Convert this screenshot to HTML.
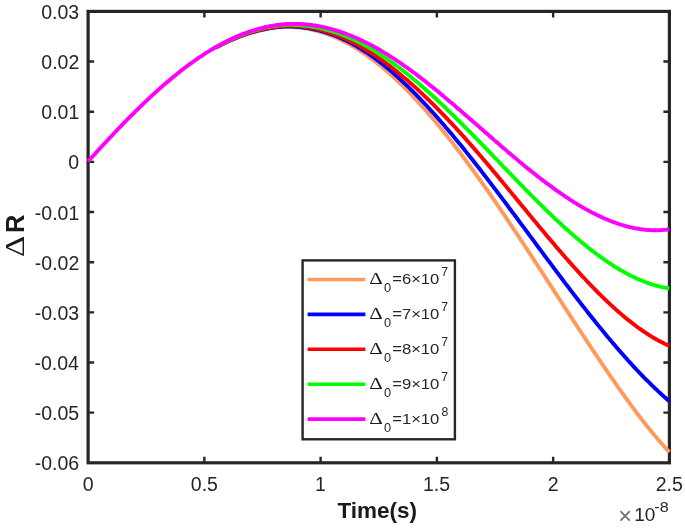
<!DOCTYPE html>
<html><head><meta charset="utf-8"><style>html,body{margin:0;padding:0;background:#fff;width:685px;height:528px;overflow:hidden}svg{display:block;filter:blur(0.45px)}</style></head>
<body><svg width="685" height="528" viewBox="0 0 685 528">
<rect x="0" y="0" width="685" height="528" fill="#fff"/>
<g stroke="#262626" stroke-width="3.2" fill="none">
<rect x="88.1" y="11.4" width="581.30" height="451.40"/>
<path d="M88.1,61.56h6.0M669.4,61.56h-6.0" stroke-width="2.4"/>
<path d="M88.1,111.71h6.0M669.4,111.71h-6.0" stroke-width="2.4"/>
<path d="M88.1,161.87h6.0M669.4,161.87h-6.0" stroke-width="2.4"/>
<path d="M88.1,212.02h6.0M669.4,212.02h-6.0" stroke-width="2.4"/>
<path d="M88.1,262.18h6.0M669.4,262.18h-6.0" stroke-width="2.4"/>
<path d="M88.1,312.33h6.0M669.4,312.33h-6.0" stroke-width="2.4"/>
<path d="M88.1,362.49h6.0M669.4,362.49h-6.0" stroke-width="2.4"/>
<path d="M88.1,412.64h6.0M669.4,412.64h-6.0" stroke-width="2.4"/>
<path d="M204.36,462.8v-6.0M204.36,11.4v6.0" stroke-width="2.4"/>
<path d="M320.62,462.8v-6.0M320.62,11.4v6.0" stroke-width="2.4"/>
<path d="M436.88,462.8v-6.0M436.88,11.4v6.0" stroke-width="2.4"/>
<path d="M553.14,462.8v-6.0M553.14,11.4v6.0" stroke-width="2.4"/>
</g>
<g fill="none" stroke-linejoin="round" stroke-linecap="butt">
<path d="M215.5,47.79 L216.7,47.14 L218.0,46.49 L219.2,45.86 L220.4,45.23 L221.6,44.62 L222.8,44.01 L224.0,43.42 L225.2,42.83 L226.4,42.25 L227.7,41.69 L228.9,41.13 L230.1,40.59 L231.3,40.05 L232.5,39.52 L233.7,39.01 L234.9,38.50 L236.2,38.01 L237.4,37.52 L238.6,37.05 L239.8,36.58 L241.0,36.13 L242.2,35.69 L243.4,35.25 L244.7,34.83 L245.9,34.42 L247.1,34.02 L248.3,33.63 L249.5,33.25 L250.7,32.88 L251.9,32.52 L253.1,32.17 L254.4,31.83 L255.6,31.50 L256.8,31.18 L258.0,30.88 L259.2,30.58 L260.4,30.30 L261.6,30.03 L262.9,29.76 L264.1,29.51 L265.3,29.27 L266.5,29.04 L267.7,28.81 L268.9,28.60 L270.1,28.39 L271.3,28.20 L272.6,28.02 L273.8,27.84 L275.0,27.68 L276.2,27.54 L277.4,27.40 L278.6,27.28 L279.8,27.18 L281.1,27.07 L282.3,26.97 L283.5,26.90 L284.7,26.85 L285.9,26.81 L287.1,26.80 L288.3,26.80 L289.6,26.83 L290.8,26.87 L292.0,26.94 L293.2,27.02 L294.4,27.11 L295.6,27.22 L296.8,27.34 L298.0,27.47 L299.3,27.61 L300.5,27.75 L301.7,27.91 L302.9,28.08 L304.1,28.26 L305.3,28.45 L306.5,28.66 L307.8,28.88 L309.0,29.12 L310.2,29.36 L311.4,29.62 L312.6,29.89 L313.8,30.18 L315.0,30.48 L316.3,30.79 L317.5,31.12 L318.7,31.45 L319.9,31.80 L321.1,32.17 L322.3,32.55 L323.5,32.94 L324.7,33.34 L326.0,33.75 L327.2,34.18 L328.4,34.63 L329.6,35.08 L330.8,35.55 L332.0,36.03 L333.2,36.52 L334.5,37.03 L335.7,37.55 L336.9,38.08 L338.1,38.63 L339.3,39.19 L340.5,39.76 L341.7,40.34 L342.9,40.94 L344.2,41.55 L345.4,42.18 L346.6,42.81 L347.8,43.46 L349.0,44.13 L350.2,44.80 L351.4,45.49 L352.7,46.19 L353.9,46.91 L355.1,47.64 L356.3,48.38 L357.5,49.13 L358.7,49.90 L359.9,50.68 L361.2,51.47 L362.4,52.28 L363.6,53.10 L364.8,53.93 L366.0,54.77 L367.2,55.63 L368.4,56.50 L369.6,57.38 L370.9,58.27 L372.1,59.18 L373.3,60.10 L374.5,61.03 L375.7,61.97 L376.9,62.93 L378.1,63.90 L379.4,64.88 L380.6,65.87 L381.8,66.87 L383.0,67.88 L384.2,68.91 L385.4,69.95 L386.6,71.00 L387.9,72.06 L389.1,73.13 L390.3,74.21 L391.5,75.30 L392.7,76.41 L393.9,77.52 L395.1,78.65 L396.3,79.79 L397.6,80.94 L398.8,82.10 L400.0,83.27 L401.2,84.45 L402.4,85.64 L403.6,86.84 L404.8,88.05 L406.1,89.27 L407.3,90.50 L408.5,91.74 L409.7,92.99 L410.9,94.26 L412.1,95.53 L413.3,96.81 L414.6,98.10 L415.8,99.40 L417.0,100.71 L418.2,102.03 L419.4,103.36 L420.6,104.70 L421.8,106.04 L423.0,107.40 L424.3,108.77 L425.5,110.14 L426.7,111.52 L427.9,112.92 L429.1,114.32 L430.3,115.73 L431.5,117.15 L432.8,118.57 L434.0,120.01 L435.2,121.45 L436.4,122.91 L437.6,124.37 L438.8,125.84 L440.0,127.31 L441.2,128.80 L442.5,130.29 L443.7,131.79 L444.9,133.30 L446.1,134.82 L447.3,136.34 L448.5,137.87 L449.7,139.41 L451.0,140.96 L452.2,142.51 L453.4,144.08 L454.6,145.64 L455.8,147.22 L457.0,148.80 L458.2,150.39 L459.5,151.99 L460.7,153.59 L461.9,155.20 L463.1,156.82 L464.3,158.44 L465.5,160.07 L466.7,161.71 L467.9,163.35 L469.2,165.00 L470.4,166.66 L471.6,168.32 L472.8,169.99 L474.0,171.66 L475.2,173.34 L476.4,175.03 L477.7,176.72 L478.9,178.42 L480.1,180.12 L481.3,181.83 L482.5,183.54 L483.7,185.26 L484.9,186.98 L486.2,188.71 L487.4,190.45 L488.6,192.19 L489.8,193.93 L491.0,195.68 L492.2,197.43 L493.4,199.19 L494.6,200.96 L495.9,202.72 L497.1,204.50 L498.3,206.27 L499.5,208.05 L500.7,209.84 L501.9,211.62 L503.1,213.42 L504.4,215.21 L505.6,217.01 L506.8,218.82 L508.0,220.62 L509.2,222.43 L510.4,224.25 L511.6,226.06 L512.8,227.88 L514.1,229.71 L515.3,231.53 L516.5,233.36 L517.7,235.19 L518.9,237.03 L520.1,238.86 L521.3,240.70 L522.6,242.54 L523.8,244.39 L525.0,246.24 L526.2,248.08 L527.4,249.93 L528.6,251.79 L529.8,253.64 L531.1,255.50 L532.3,257.35 L533.5,259.21 L534.7,261.07 L535.9,262.94 L537.1,264.80 L538.3,266.66 L539.5,268.53 L540.8,270.40 L542.0,272.26 L543.2,274.13 L544.4,276.00 L545.6,277.87 L546.8,279.74 L548.0,281.61 L549.3,283.48 L550.5,285.35 L551.7,287.22 L552.9,289.10 L554.1,290.97 L555.3,292.84 L556.5,294.71 L557.8,296.58 L559.0,298.45 L560.2,300.32 L561.4,302.19 L562.6,304.06 L563.8,305.93 L565.0,307.79 L566.2,309.66 L567.5,311.52 L568.7,313.39 L569.9,315.25 L571.1,317.11 L572.3,318.97 L573.5,320.83 L574.7,322.69 L576.0,324.54 L577.2,326.40 L578.4,328.25 L579.6,330.10 L580.8,331.95 L582.0,333.79 L583.2,335.63 L584.5,337.48 L585.7,339.31 L586.9,341.15 L588.1,342.98 L589.3,344.81 L590.5,346.64 L591.7,348.47 L592.9,350.29 L594.2,352.11 L595.4,353.92 L596.6,355.74 L597.8,357.54 L599.0,359.35 L600.2,361.15 L601.4,362.95 L602.7,364.74 L603.9,366.53 L605.1,368.32 L606.3,370.10 L607.5,371.88 L608.7,373.65 L609.9,375.42 L611.1,377.18 L612.4,378.94 L613.6,380.69 L614.8,382.44 L616.0,384.18 L617.2,385.91 L618.4,387.64 L619.6,389.36 L620.9,391.07 L622.1,392.78 L623.3,394.48 L624.5,396.18 L625.7,397.86 L626.9,399.54 L628.1,401.21 L629.4,402.87 L630.6,404.53 L631.8,406.17 L633.0,407.81 L634.2,409.44 L635.4,411.06 L636.6,412.67 L637.8,414.27 L639.1,415.87 L640.3,417.45 L641.5,419.02 L642.7,420.58 L643.9,422.14 L645.1,423.68 L646.3,425.21 L647.6,426.73 L648.8,428.24 L650.0,429.74 L651.2,431.23 L652.4,432.70 L653.6,434.17 L654.8,435.62 L656.1,437.06 L657.3,438.49 L658.5,439.91 L659.7,441.31 L660.9,442.70 L662.1,444.08 L663.3,445.44 L664.5,446.79 L665.8,448.13 L667.0,449.45 L668.2,450.76 L669.4,452.06" stroke="#FF9A5C" stroke-width="3.9"/>
<path d="M215.5,47.73 L216.7,47.07 L218.0,46.42 L219.2,45.78 L220.4,45.16 L221.6,44.54 L222.8,43.93 L224.0,43.33 L225.2,42.74 L226.4,42.15 L227.7,41.58 L228.9,41.02 L230.1,40.47 L231.3,39.93 L232.5,39.40 L233.7,38.88 L234.9,38.37 L236.2,37.87 L237.4,37.38 L238.6,36.90 L239.8,36.44 L241.0,35.98 L242.2,35.53 L243.4,35.09 L244.7,34.66 L245.9,34.25 L247.1,33.84 L248.3,33.44 L249.5,33.06 L250.7,32.69 L251.9,32.32 L253.1,31.97 L254.4,31.62 L255.6,31.29 L256.8,30.97 L258.0,30.66 L259.2,30.36 L260.4,30.07 L261.6,29.79 L262.9,29.53 L264.1,29.27 L265.3,29.02 L266.5,28.79 L267.7,28.56 L268.9,28.35 L270.1,28.14 L271.3,27.95 L272.6,27.76 L273.8,27.59 L275.0,27.43 L276.2,27.28 L277.4,27.14 L278.6,27.02 L279.8,26.91 L281.1,26.80 L282.3,26.70 L283.5,26.62 L284.7,26.56 L285.9,26.52 L287.1,26.49 L288.3,26.48 L289.6,26.49 L290.8,26.51 L292.0,26.55 L293.2,26.61 L294.4,26.68 L295.6,26.76 L296.8,26.85 L298.0,26.95 L299.3,27.06 L300.5,27.18 L301.7,27.31 L302.9,27.45 L304.1,27.60 L305.3,27.77 L306.5,27.95 L307.8,28.14 L309.0,28.34 L310.2,28.56 L311.4,28.79 L312.6,29.03 L313.8,29.28 L315.0,29.55 L316.3,29.83 L317.5,30.12 L318.7,30.42 L319.9,30.74 L321.1,31.07 L322.3,31.41 L323.5,31.76 L324.7,32.13 L326.0,32.51 L327.2,32.90 L328.4,33.30 L329.6,33.72 L330.8,34.15 L332.0,34.59 L333.2,35.04 L334.5,35.51 L335.7,35.99 L336.9,36.48 L338.1,36.99 L339.3,37.50 L340.5,38.03 L341.7,38.58 L342.9,39.13 L344.2,39.70 L345.4,40.28 L346.6,40.88 L347.8,41.48 L349.0,42.10 L350.2,42.73 L351.4,43.38 L352.7,44.04 L353.9,44.71 L355.1,45.39 L356.3,46.08 L357.5,46.79 L358.7,47.51 L359.9,48.25 L361.2,48.99 L362.4,49.75 L363.6,50.53 L364.8,51.31 L366.0,52.11 L367.2,52.92 L368.4,53.74 L369.6,54.57 L370.9,55.42 L372.1,56.28 L373.3,57.15 L374.5,58.03 L375.7,58.92 L376.9,59.82 L378.1,60.74 L379.4,61.67 L380.6,62.61 L381.8,63.56 L383.0,64.52 L384.2,65.49 L385.4,66.48 L386.6,67.47 L387.9,68.48 L389.1,69.49 L390.3,70.52 L391.5,71.56 L392.7,72.60 L393.9,73.66 L395.1,74.73 L396.3,75.81 L397.6,76.90 L398.8,77.99 L400.0,79.10 L401.2,80.22 L402.4,81.35 L403.6,82.49 L404.8,83.63 L406.1,84.79 L407.3,85.95 L408.5,87.13 L409.7,88.31 L410.9,89.51 L412.1,90.71 L413.3,91.92 L414.6,93.14 L415.8,94.37 L417.0,95.60 L418.2,96.85 L419.4,98.10 L420.6,99.37 L421.8,100.64 L423.0,101.92 L424.3,103.20 L425.5,104.50 L426.7,105.80 L427.9,107.11 L429.1,108.43 L430.3,109.75 L431.5,111.09 L432.8,112.43 L434.0,113.78 L435.2,115.13 L436.4,116.49 L437.6,117.86 L438.8,119.24 L440.0,120.62 L441.2,122.01 L442.5,123.41 L443.7,124.81 L444.9,126.22 L446.1,127.64 L447.3,129.06 L448.5,130.49 L449.7,131.93 L451.0,133.37 L452.2,134.81 L453.4,136.27 L454.6,137.73 L455.8,139.19 L457.0,140.66 L458.2,142.13 L459.5,143.62 L460.7,145.10 L461.9,146.59 L463.1,148.09 L464.3,149.59 L465.5,151.10 L466.7,152.61 L467.9,154.13 L469.2,155.65 L470.4,157.17 L471.6,158.70 L472.8,160.24 L474.0,161.78 L475.2,163.32 L476.4,164.87 L477.7,166.42 L478.9,167.97 L480.1,169.53 L481.3,171.09 L482.5,172.66 L483.7,174.23 L484.9,175.80 L486.2,177.38 L487.4,178.96 L488.6,180.55 L489.8,182.13 L491.0,183.72 L492.2,185.31 L493.4,186.91 L494.6,188.51 L495.9,190.11 L497.1,191.71 L498.3,193.32 L499.5,194.93 L500.7,196.54 L501.9,198.15 L503.1,199.77 L504.4,201.38 L505.6,203.00 L506.8,204.63 L508.0,206.25 L509.2,207.87 L510.4,209.50 L511.6,211.13 L512.8,212.76 L514.1,214.39 L515.3,216.02 L516.5,217.65 L517.7,219.28 L518.9,220.92 L520.1,222.55 L521.3,224.19 L522.6,225.83 L523.8,227.47 L525.0,229.10 L526.2,230.74 L527.4,232.38 L528.6,234.02 L529.8,235.66 L531.1,237.30 L532.3,238.94 L533.5,240.58 L534.7,242.22 L535.9,243.85 L537.1,245.49 L538.3,247.13 L539.5,248.77 L540.8,250.40 L542.0,252.04 L543.2,253.67 L544.4,255.31 L545.6,256.94 L546.8,258.57 L548.0,260.20 L549.3,261.83 L550.5,263.46 L551.7,265.08 L552.9,266.71 L554.1,268.33 L555.3,269.95 L556.5,271.57 L557.8,273.19 L559.0,274.80 L560.2,276.42 L561.4,278.03 L562.6,279.63 L563.8,281.24 L565.0,282.84 L566.2,284.44 L567.5,286.04 L568.7,287.64 L569.9,289.23 L571.1,290.82 L572.3,292.41 L573.5,293.99 L574.7,295.57 L576.0,297.15 L577.2,298.72 L578.4,300.29 L579.6,301.86 L580.8,303.42 L582.0,304.98 L583.2,306.53 L584.5,308.08 L585.7,309.63 L586.9,311.17 L588.1,312.71 L589.3,314.24 L590.5,315.77 L591.7,317.30 L592.9,318.82 L594.2,320.33 L595.4,321.85 L596.6,323.35 L597.8,324.85 L599.0,326.35 L600.2,327.84 L601.4,329.33 L602.7,330.81 L603.9,332.28 L605.1,333.75 L606.3,335.21 L607.5,336.67 L608.7,338.12 L609.9,339.57 L611.1,341.01 L612.4,342.45 L613.6,343.87 L614.8,345.30 L616.0,346.71 L617.2,348.12 L618.4,349.52 L619.6,350.92 L620.9,352.31 L622.1,353.69 L623.3,355.07 L624.5,356.44 L625.7,357.80 L626.9,359.15 L628.1,360.50 L629.4,361.84 L630.6,363.17 L631.8,364.50 L633.0,365.81 L634.2,367.12 L635.4,368.43 L636.6,369.72 L637.8,371.01 L639.1,372.28 L640.3,373.55 L641.5,374.81 L642.7,376.07 L643.9,377.31 L645.1,378.55 L646.3,379.78 L647.6,380.99 L648.8,382.20 L650.0,383.41 L651.2,384.60 L652.4,385.78 L653.6,386.96 L654.8,388.12 L656.1,389.28 L657.3,390.42 L658.5,391.56 L659.7,392.68 L660.9,393.80 L662.1,394.91 L663.3,396.01 L664.5,397.09 L665.8,398.17 L667.0,399.24 L668.2,400.29 L669.4,401.34" stroke="#0000FF" stroke-width="3.9"/>
<path d="M215.5,47.65 L216.7,46.99 L218.0,46.33 L219.2,45.69 L220.4,45.05 L221.6,44.43 L222.8,43.81 L224.0,43.21 L225.2,42.61 L226.4,42.02 L227.7,41.45 L228.9,40.88 L230.1,40.32 L231.3,39.78 L232.5,39.24 L233.7,38.71 L234.9,38.20 L236.2,37.69 L237.4,37.20 L238.6,36.71 L239.8,36.24 L241.0,35.77 L242.2,35.32 L243.4,34.87 L244.7,34.44 L245.9,34.02 L247.1,33.61 L248.3,33.20 L249.5,32.81 L250.7,32.43 L251.9,32.06 L253.1,31.70 L254.4,31.35 L255.6,31.01 L256.8,30.69 L258.0,30.37 L259.2,30.07 L260.4,29.77 L261.6,29.49 L262.9,29.21 L264.1,28.95 L265.3,28.70 L266.5,28.45 L267.7,28.22 L268.9,27.99 L270.1,27.77 L271.3,27.57 L272.6,27.37 L273.8,27.18 L275.0,27.00 L276.2,26.83 L277.4,26.68 L278.6,26.54 L279.8,26.41 L281.1,26.28 L282.3,26.16 L283.5,26.06 L284.7,25.98 L285.9,25.92 L287.1,25.87 L288.3,25.85 L289.6,25.84 L290.8,25.84 L292.0,25.86 L293.2,25.90 L294.4,25.96 L295.6,26.03 L296.8,26.11 L298.0,26.20 L299.3,26.30 L300.5,26.41 L301.7,26.54 L302.9,26.67 L304.1,26.82 L305.3,26.98 L306.5,27.15 L307.8,27.33 L309.0,27.53 L310.2,27.73 L311.4,27.95 L312.6,28.18 L313.8,28.43 L315.0,28.68 L316.3,28.95 L317.5,29.23 L318.7,29.52 L319.9,29.82 L321.1,30.13 L322.3,30.46 L323.5,30.80 L324.7,31.14 L326.0,31.51 L327.2,31.88 L328.4,32.26 L329.6,32.66 L330.8,33.06 L332.0,33.48 L333.2,33.91 L334.5,34.35 L335.7,34.80 L336.9,35.27 L338.1,35.74 L339.3,36.23 L340.5,36.73 L341.7,37.24 L342.9,37.76 L344.2,38.29 L345.4,38.83 L346.6,39.38 L347.8,39.95 L349.0,40.52 L350.2,41.11 L351.4,41.71 L352.7,42.32 L353.9,42.94 L355.1,43.57 L356.3,44.21 L357.5,44.86 L358.7,45.53 L359.9,46.20 L361.2,46.89 L362.4,47.58 L363.6,48.29 L364.8,49.01 L366.0,49.74 L367.2,50.48 L368.4,51.22 L369.6,51.98 L370.9,52.75 L372.1,53.53 L373.3,54.32 L374.5,55.12 L375.7,55.93 L376.9,56.75 L378.1,57.58 L379.4,58.42 L380.6,59.27 L381.8,60.13 L383.0,61.00 L384.2,61.88 L385.4,62.76 L386.6,63.66 L387.9,64.57 L389.1,65.48 L390.3,66.41 L391.5,67.34 L392.7,68.28 L393.9,69.24 L395.1,70.20 L396.3,71.17 L397.6,72.14 L398.8,73.13 L400.0,74.13 L401.2,75.13 L402.4,76.14 L403.6,77.16 L404.8,78.19 L406.1,79.23 L407.3,80.28 L408.5,81.33 L409.7,82.39 L410.9,83.46 L412.1,84.54 L413.3,85.62 L414.6,86.72 L415.8,87.82 L417.0,88.93 L418.2,90.04 L419.4,91.17 L420.6,92.30 L421.8,93.44 L423.0,94.58 L424.3,95.74 L425.5,96.90 L426.7,98.06 L427.9,99.24 L429.1,100.42 L430.3,101.61 L431.5,102.80 L432.8,104.00 L434.0,105.21 L435.2,106.43 L436.4,107.65 L437.6,108.88 L438.8,110.11 L440.0,111.35 L441.2,112.60 L442.5,113.85 L443.7,115.11 L444.9,116.38 L446.1,117.65 L447.3,118.93 L448.5,120.21 L449.7,121.50 L451.0,122.79 L452.2,124.09 L453.4,125.40 L454.6,126.71 L455.8,128.03 L457.0,129.35 L458.2,130.68 L459.5,132.01 L460.7,133.35 L461.9,134.69 L463.1,136.04 L464.3,137.39 L465.5,138.75 L466.7,140.11 L467.9,141.48 L469.2,142.85 L470.4,144.23 L471.6,145.61 L472.8,147.00 L474.0,148.39 L475.2,149.78 L476.4,151.18 L477.7,152.58 L478.9,153.99 L480.1,155.40 L481.3,156.81 L482.5,158.23 L483.7,159.65 L484.9,161.08 L486.2,162.51 L487.4,163.94 L488.6,165.38 L489.8,166.82 L491.0,168.26 L492.2,169.71 L493.4,171.15 L494.6,172.60 L495.9,174.06 L497.1,175.51 L498.3,176.97 L499.5,178.43 L500.7,179.89 L501.9,181.35 L503.1,182.82 L504.4,184.29 L505.6,185.75 L506.8,187.22 L508.0,188.70 L509.2,190.17 L510.4,191.64 L511.6,193.11 L512.8,194.59 L514.1,196.06 L515.3,197.54 L516.5,199.02 L517.7,200.49 L518.9,201.97 L520.1,203.45 L521.3,204.92 L522.6,206.40 L523.8,207.88 L525.0,209.35 L526.2,210.83 L527.4,212.30 L528.6,213.77 L529.8,215.25 L531.1,216.72 L532.3,218.19 L533.5,219.66 L534.7,221.12 L535.9,222.59 L537.1,224.05 L538.3,225.51 L539.5,226.97 L540.8,228.43 L542.0,229.89 L543.2,231.34 L544.4,232.79 L545.6,234.24 L546.8,235.69 L548.0,237.13 L549.3,238.57 L550.5,240.01 L551.7,241.44 L552.9,242.87 L554.1,244.30 L555.3,245.72 L556.5,247.14 L557.8,248.56 L559.0,249.97 L560.2,251.38 L561.4,252.78 L562.6,254.18 L563.8,255.57 L565.0,256.96 L566.2,258.35 L567.5,259.73 L568.7,261.11 L569.9,262.48 L571.1,263.84 L572.3,265.20 L573.5,266.56 L574.7,267.91 L576.0,269.25 L577.2,270.59 L578.4,271.92 L579.6,273.25 L580.8,274.57 L582.0,275.88 L583.2,277.19 L584.5,278.49 L585.7,279.78 L586.9,281.07 L588.1,282.35 L589.3,283.62 L590.5,284.89 L591.7,286.15 L592.9,287.40 L594.2,288.64 L595.4,289.88 L596.6,291.11 L597.8,292.33 L599.0,293.54 L600.2,294.74 L601.4,295.94 L602.7,297.13 L603.9,298.31 L605.1,299.48 L606.3,300.64 L607.5,301.79 L608.7,302.94 L609.9,304.07 L611.1,305.20 L612.4,306.31 L613.6,307.42 L614.8,308.51 L616.0,309.60 L617.2,310.68 L618.4,311.75 L619.6,312.80 L620.9,313.85 L622.1,314.89 L623.3,315.91 L624.5,316.93 L625.7,317.93 L626.9,318.93 L628.1,319.91 L629.4,320.88 L630.6,321.84 L631.8,322.79 L633.0,323.73 L634.2,324.65 L635.4,325.57 L636.6,326.47 L637.8,327.36 L639.1,328.24 L640.3,329.10 L641.5,329.96 L642.7,330.80 L643.9,331.63 L645.1,332.44 L646.3,333.25 L647.6,334.04 L648.8,334.81 L650.0,335.58 L651.2,336.33 L652.4,337.06 L653.6,337.79 L654.8,338.50 L656.1,339.19 L657.3,339.87 L658.5,340.54 L659.7,341.20 L660.9,341.83 L662.1,342.46 L663.3,343.07 L664.5,343.66 L665.8,344.25 L667.0,344.81 L668.2,345.36 L669.4,345.90" stroke="#FF0000" stroke-width="3.9"/>
<path d="M215.5,47.42 L216.7,46.74 L218.0,46.06 L219.2,45.40 L220.4,44.75 L221.6,44.10 L222.8,43.47 L224.0,42.84 L225.2,42.23 L226.4,41.63 L227.7,41.03 L228.9,40.45 L230.1,39.87 L231.3,39.31 L232.5,38.75 L233.7,38.21 L234.9,37.67 L236.2,37.15 L237.4,36.64 L238.6,36.13 L239.8,35.64 L241.0,35.16 L242.2,34.68 L243.4,34.22 L244.7,33.77 L245.9,33.33 L247.1,32.90 L248.3,32.48 L249.5,32.07 L250.7,31.67 L251.9,31.28 L253.1,30.90 L254.4,30.54 L255.6,30.18 L256.8,29.84 L258.0,29.50 L259.2,29.18 L260.4,28.86 L261.6,28.56 L262.9,28.27 L264.1,27.99 L265.3,27.72 L266.5,27.46 L267.7,27.21 L268.9,26.97 L270.1,26.75 L271.3,26.53 L272.6,26.33 L273.8,26.14 L275.0,25.96 L276.2,25.79 L277.4,25.64 L278.6,25.50 L279.8,25.38 L281.1,25.26 L282.3,25.16 L283.5,25.08 L284.7,25.01 L285.9,24.95 L287.1,24.91 L288.3,24.88 L289.6,24.87 L290.8,24.87 L292.0,24.88 L293.2,24.90 L294.4,24.94 L295.6,24.99 L296.8,25.05 L298.0,25.11 L299.3,25.19 L300.5,25.27 L301.7,25.37 L302.9,25.47 L304.1,25.59 L305.3,25.71 L306.5,25.85 L307.8,26.00 L309.0,26.16 L310.2,26.33 L311.4,26.52 L312.6,26.71 L313.8,26.92 L315.0,27.14 L316.3,27.36 L317.5,27.60 L318.7,27.85 L319.9,28.11 L321.1,28.39 L322.3,28.67 L323.5,28.96 L324.7,29.27 L326.0,29.59 L327.2,29.91 L328.4,30.25 L329.6,30.60 L330.8,30.96 L332.0,31.33 L333.2,31.71 L334.5,32.10 L335.7,32.50 L336.9,32.92 L338.1,33.34 L339.3,33.78 L340.5,34.22 L341.7,34.68 L342.9,35.14 L344.2,35.62 L345.4,36.11 L346.6,36.61 L347.8,37.11 L349.0,37.63 L350.2,38.16 L351.4,38.70 L352.7,39.25 L353.9,39.81 L355.1,40.38 L356.3,40.96 L357.5,41.55 L358.7,42.16 L359.9,42.77 L361.2,43.39 L362.4,44.02 L363.6,44.66 L364.8,45.32 L366.0,45.98 L367.2,46.65 L368.4,47.33 L369.6,48.02 L370.9,48.73 L372.1,49.44 L373.3,50.16 L374.5,50.89 L375.7,51.63 L376.9,52.38 L378.1,53.14 L379.4,53.90 L380.6,54.68 L381.8,55.47 L383.0,56.26 L384.2,57.07 L385.4,57.88 L386.6,58.70 L387.9,59.53 L389.1,60.37 L390.3,61.22 L391.5,62.08 L392.7,62.95 L393.9,63.82 L395.1,64.71 L396.3,65.60 L397.6,66.50 L398.8,67.41 L400.0,68.33 L401.2,69.25 L402.4,70.19 L403.6,71.13 L404.8,72.08 L406.1,73.04 L407.3,74.00 L408.5,74.97 L409.7,75.96 L410.9,76.94 L412.1,77.94 L413.3,78.94 L414.6,79.95 L415.8,80.97 L417.0,81.99 L418.2,83.02 L419.4,84.06 L420.6,85.11 L421.8,86.16 L423.0,87.22 L424.3,88.28 L425.5,89.35 L426.7,90.43 L427.9,91.51 L429.1,92.60 L430.3,93.69 L431.5,94.79 L432.8,95.90 L434.0,97.01 L435.2,98.12 L436.4,99.25 L437.6,100.37 L438.8,101.51 L440.0,102.64 L441.2,103.79 L442.5,104.94 L443.7,106.09 L444.9,107.24 L446.1,108.41 L447.3,109.57 L448.5,110.74 L449.7,111.92 L451.0,113.10 L452.2,114.28 L453.4,115.47 L454.6,116.66 L455.8,117.85 L457.0,119.05 L458.2,120.25 L459.5,121.46 L460.7,122.67 L461.9,123.88 L463.1,125.10 L464.3,126.31 L465.5,127.54 L466.7,128.76 L467.9,129.99 L469.2,131.22 L470.4,132.45 L471.6,133.69 L472.8,134.92 L474.0,136.16 L475.2,137.40 L476.4,138.65 L477.7,139.89 L478.9,141.14 L480.1,142.39 L481.3,143.64 L482.5,144.90 L483.7,146.15 L484.9,147.41 L486.2,148.67 L487.4,149.92 L488.6,151.18 L489.8,152.44 L491.0,153.70 L492.2,154.97 L493.4,156.23 L494.6,157.49 L495.9,158.76 L497.1,160.02 L498.3,161.28 L499.5,162.55 L500.7,163.81 L501.9,165.07 L503.1,166.34 L504.4,167.60 L505.6,168.86 L506.8,170.12 L508.0,171.39 L509.2,172.65 L510.4,173.90 L511.6,175.16 L512.8,176.42 L514.1,177.68 L515.3,178.93 L516.5,180.18 L517.7,181.43 L518.9,182.68 L520.1,183.93 L521.3,185.18 L522.6,186.42 L523.8,187.66 L525.0,188.90 L526.2,190.14 L527.4,191.37 L528.6,192.61 L529.8,193.84 L531.1,195.06 L532.3,196.29 L533.5,197.51 L534.7,198.72 L535.9,199.94 L537.1,201.15 L538.3,202.35 L539.5,203.56 L540.8,204.76 L542.0,205.95 L543.2,207.15 L544.4,208.33 L545.6,209.52 L546.8,210.70 L548.0,211.87 L549.3,213.04 L550.5,214.21 L551.7,215.37 L552.9,216.53 L554.1,217.68 L555.3,218.83 L556.5,219.97 L557.8,221.11 L559.0,222.24 L560.2,223.36 L561.4,224.48 L562.6,225.60 L563.8,226.70 L565.0,227.81 L566.2,228.90 L567.5,229.99 L568.7,231.08 L569.9,232.16 L571.1,233.23 L572.3,234.29 L573.5,235.35 L574.7,236.40 L576.0,237.45 L577.2,238.48 L578.4,239.51 L579.6,240.54 L580.8,241.55 L582.0,242.56 L583.2,243.56 L584.5,244.56 L585.7,245.54 L586.9,246.52 L588.1,247.49 L589.3,248.45 L590.5,249.40 L591.7,250.35 L592.9,251.28 L594.2,252.21 L595.4,253.13 L596.6,254.04 L597.8,254.94 L599.0,255.83 L600.2,256.72 L601.4,257.59 L602.7,258.45 L603.9,259.31 L605.1,260.16 L606.3,260.99 L607.5,261.82 L608.7,262.63 L609.9,263.44 L611.1,264.24 L612.4,265.02 L613.6,265.80 L614.8,266.56 L616.0,267.32 L617.2,268.06 L618.4,268.80 L619.6,269.52 L620.9,270.23 L622.1,270.93 L623.3,271.62 L624.5,272.30 L625.7,272.96 L626.9,273.62 L628.1,274.26 L629.4,274.89 L630.6,275.51 L631.8,276.12 L633.0,276.71 L634.2,277.30 L635.4,277.87 L636.6,278.43 L637.8,278.97 L639.1,279.51 L640.3,280.03 L641.5,280.53 L642.7,281.03 L643.9,281.51 L645.1,281.98 L646.3,282.43 L647.6,282.88 L648.8,283.30 L650.0,283.72 L651.2,284.12 L652.4,284.51 L653.6,284.88 L654.8,285.24 L656.1,285.58 L657.3,285.91 L658.5,286.23 L659.7,286.53 L660.9,286.82 L662.1,287.09 L663.3,287.35 L664.5,287.59 L665.8,287.82 L667.0,288.03 L668.2,288.23 L669.4,288.41" stroke="#00FF00" stroke-width="3.9"/>
<path d="M88.1,161.38 L89.3,160.04 L90.5,158.70 L91.7,157.36 L93.0,156.03 L94.2,154.70 L95.4,153.37 L96.6,152.04 L97.8,150.71 L99.0,149.39 L100.2,148.07 L101.4,146.76 L102.7,145.44 L103.9,144.13 L105.1,142.82 L106.3,141.52 L107.5,140.22 L108.7,138.92 L109.9,137.63 L111.2,136.34 L112.4,135.05 L113.6,133.77 L114.8,132.49 L116.0,131.21 L117.2,129.94 L118.4,128.67 L119.7,127.41 L120.9,126.15 L122.1,124.90 L123.3,123.65 L124.5,122.40 L125.7,121.16 L126.9,119.92 L128.1,118.69 L129.4,117.46 L130.6,116.24 L131.8,115.03 L133.0,113.81 L134.2,112.61 L135.4,111.41 L136.6,110.21 L137.9,109.02 L139.1,107.83 L140.3,106.65 L141.5,105.48 L142.7,104.31 L143.9,103.15 L145.1,101.99 L146.4,100.84 L147.6,99.69 L148.8,98.55 L150.0,97.42 L151.2,96.30 L152.4,95.18 L153.6,94.06 L154.8,92.95 L156.1,91.85 L157.3,90.76 L158.5,89.67 L159.7,88.59 L160.9,87.52 L162.1,86.45 L163.3,85.39 L164.6,84.34 L165.8,83.29 L167.0,82.25 L168.2,81.22 L169.4,80.19 L170.6,79.18 L171.8,78.17 L173.0,77.17 L174.3,76.17 L175.5,75.18 L176.7,74.21 L177.9,73.23 L179.1,72.27 L180.3,71.31 L181.5,70.37 L182.8,69.43 L184.0,68.50 L185.2,67.57 L186.4,66.66 L187.6,65.75 L188.8,64.85 L190.0,63.96 L191.3,63.08 L192.5,62.21 L193.7,61.34 L194.9,60.49 L196.1,59.64 L197.3,58.80 L198.5,57.97 L199.7,57.15 L201.0,56.34 L202.2,55.53 L203.4,54.74 L204.6,53.95 L205.8,53.18 L207.0,52.41 L208.2,51.65 L209.5,50.90 L210.7,50.17 L211.9,49.44 L213.1,48.72 L214.3,48.01 L215.5,47.30 L216.7,46.61 L218.0,45.93 L219.2,45.26 L220.4,44.59 L221.6,43.94 L222.8,43.30 L224.0,42.66 L225.2,42.04 L226.4,41.43 L227.7,40.82 L228.9,40.23 L230.1,39.65 L231.3,39.07 L232.5,38.51 L233.7,37.96 L234.9,37.41 L236.2,36.88 L237.4,36.36 L238.6,35.84 L239.8,35.34 L241.0,34.85 L242.2,34.37 L243.4,33.90 L244.7,33.44 L245.9,32.99 L247.1,32.55 L248.3,32.12 L249.5,31.70 L250.7,31.29 L251.9,30.89 L253.1,30.51 L254.4,30.13 L255.6,29.76 L256.8,29.41 L258.0,29.07 L259.2,28.73 L260.4,28.41 L261.6,28.10 L262.9,27.80 L264.1,27.51 L265.3,27.23 L266.5,26.96 L267.7,26.70 L268.9,26.45 L270.1,26.21 L271.3,25.98 L272.6,25.76 L273.8,25.55 L275.0,25.35 L276.2,25.16 L277.4,24.99 L278.6,24.82 L279.8,24.67 L281.1,24.53 L282.3,24.41 L283.5,24.29 L284.7,24.19 L285.9,24.10 L287.1,24.03 L288.3,23.96 L289.6,23.91 L290.8,23.87 L292.0,23.85 L293.2,23.84 L294.4,23.84 L295.6,23.85 L296.8,23.87 L298.0,23.91 L299.3,23.96 L300.5,24.01 L301.7,24.08 L302.9,24.16 L304.1,24.25 L305.3,24.35 L306.5,24.46 L307.8,24.59 L309.0,24.72 L310.2,24.86 L311.4,25.02 L312.6,25.19 L313.8,25.36 L315.0,25.55 L316.3,25.75 L317.5,25.96 L318.7,26.18 L319.9,26.40 L321.1,26.64 L322.3,26.89 L323.5,27.16 L324.7,27.43 L326.0,27.71 L327.2,28.00 L328.4,28.30 L329.6,28.61 L330.8,28.93 L332.0,29.27 L333.2,29.61 L334.5,29.96 L335.7,30.32 L336.9,30.70 L338.1,31.08 L339.3,31.47 L340.5,31.87 L341.7,32.28 L342.9,32.70 L344.2,33.14 L345.4,33.58 L346.6,34.03 L347.8,34.49 L349.0,34.96 L350.2,35.43 L351.4,35.92 L352.7,36.42 L353.9,36.93 L355.1,37.45 L356.3,37.97 L357.5,38.51 L358.7,39.05 L359.9,39.61 L361.2,40.17 L362.4,40.74 L363.6,41.32 L364.8,41.91 L366.0,42.51 L367.2,43.12 L368.4,43.74 L369.6,44.36 L370.9,45.00 L372.1,45.64 L373.3,46.30 L374.5,46.96 L375.7,47.63 L376.9,48.31 L378.1,49.00 L379.4,49.69 L380.6,50.40 L381.8,51.11 L383.0,51.83 L384.2,52.56 L385.4,53.30 L386.6,54.05 L387.9,54.80 L389.1,55.56 L390.3,56.33 L391.5,57.11 L392.7,57.90 L393.9,58.69 L395.1,59.49 L396.3,60.30 L397.6,61.11 L398.8,61.93 L400.0,62.76 L401.2,63.60 L402.4,64.44 L403.6,65.29 L404.8,66.14 L406.1,67.01 L407.3,67.87 L408.5,68.75 L409.7,69.63 L410.9,70.52 L412.1,71.41 L413.3,72.31 L414.6,73.21 L415.8,74.12 L417.0,75.04 L418.2,75.96 L419.4,76.88 L420.6,77.81 L421.8,78.75 L423.0,79.69 L424.3,80.64 L425.5,81.59 L426.7,82.55 L427.9,83.51 L429.1,84.47 L430.3,85.44 L431.5,86.41 L432.8,87.39 L434.0,88.37 L435.2,89.36 L436.4,90.35 L437.6,91.34 L438.8,92.34 L440.0,93.34 L441.2,94.35 L442.5,95.35 L443.7,96.37 L444.9,97.38 L446.1,98.40 L447.3,99.42 L448.5,100.44 L449.7,101.47 L451.0,102.49 L452.2,103.52 L453.4,104.56 L454.6,105.59 L455.8,106.63 L457.0,107.67 L458.2,108.71 L459.5,109.76 L460.7,110.80 L461.9,111.85 L463.1,112.90 L464.3,113.95 L465.5,115.00 L466.7,116.06 L467.9,117.11 L469.2,118.17 L470.4,119.23 L471.6,120.28 L472.8,121.34 L474.0,122.40 L475.2,123.46 L476.4,124.52 L477.7,125.58 L478.9,126.64 L480.1,127.70 L481.3,128.77 L482.5,129.83 L483.7,130.89 L484.9,131.95 L486.2,133.01 L487.4,134.07 L488.6,135.13 L489.8,136.19 L491.0,137.25 L492.2,138.30 L493.4,139.36 L494.6,140.42 L495.9,141.47 L497.1,142.52 L498.3,143.57 L499.5,144.62 L500.7,145.67 L501.9,146.72 L503.1,147.77 L504.4,148.81 L505.6,149.85 L506.8,150.89 L508.0,151.93 L509.2,152.96 L510.4,153.99 L511.6,155.02 L512.8,156.05 L514.1,157.08 L515.3,158.10 L516.5,159.12 L517.7,160.13 L518.9,161.15 L520.1,162.16 L521.3,163.16 L522.6,164.16 L523.8,165.16 L525.0,166.16 L526.2,167.15 L527.4,168.14 L528.6,169.12 L529.8,170.10 L531.1,171.08 L532.3,172.05 L533.5,173.02 L534.7,173.98 L535.9,174.94 L537.1,175.90 L538.3,176.85 L539.5,177.79 L540.8,178.73 L542.0,179.66 L543.2,180.59 L544.4,181.52 L545.6,182.44 L546.8,183.35 L548.0,184.26 L549.3,185.16 L550.5,186.05 L551.7,186.94 L552.9,187.83 L554.1,188.71 L555.3,189.58 L556.5,190.44 L557.8,191.30 L559.0,192.16 L560.2,193.00 L561.4,193.84 L562.6,194.68 L563.8,195.50 L565.0,196.32 L566.2,197.13 L567.5,197.94 L568.7,198.73 L569.9,199.52 L571.1,200.31 L572.3,201.08 L573.5,201.85 L574.7,202.61 L576.0,203.36 L577.2,204.10 L578.4,204.84 L579.6,205.56 L580.8,206.28 L582.0,206.99 L583.2,207.69 L584.5,208.38 L585.7,209.07 L586.9,209.74 L588.1,210.41 L589.3,211.07 L590.5,211.71 L591.7,212.35 L592.9,212.98 L594.2,213.60 L595.4,214.21 L596.6,214.81 L597.8,215.40 L599.0,215.98 L600.2,216.56 L601.4,217.12 L602.7,217.67 L603.9,218.21 L605.1,218.74 L606.3,219.26 L607.5,219.77 L608.7,220.26 L609.9,220.75 L611.1,221.23 L612.4,221.69 L613.6,222.15 L614.8,222.59 L616.0,223.02 L617.2,223.44 L618.4,223.85 L619.6,224.25 L620.9,224.63 L622.1,225.01 L623.3,225.37 L624.5,225.72 L625.7,226.06 L626.9,226.38 L628.1,226.69 L629.4,226.99 L630.6,227.28 L631.8,227.56 L633.0,227.82 L634.2,228.07 L635.4,228.31 L636.6,228.53 L637.8,228.74 L639.1,228.94 L640.3,229.12 L641.5,229.29 L642.7,229.45 L643.9,229.59 L645.1,229.72 L646.3,229.83 L647.6,229.94 L648.8,230.02 L650.0,230.10 L651.2,230.16 L652.4,230.20 L653.6,230.23 L654.8,230.24 L656.1,230.24 L657.3,230.23 L658.5,230.20 L659.7,230.16 L660.9,230.10 L662.1,230.02 L663.3,229.93 L664.5,229.83 L665.8,229.71 L667.0,229.57 L668.2,229.42 L669.4,229.25" stroke="#FF00FF" stroke-width="3.9"/>
</g>
<text x="41.20" y="19.00" font-family="Liberation Sans, Arial, sans-serif" font-size="19.5" fill="#262626" >0.03</text>
<text x="41.33" y="69.16" font-family="Liberation Sans, Arial, sans-serif" font-size="19.5" fill="#262626" >0.02</text>
<text x="41.30" y="119.31" font-family="Liberation Sans, Arial, sans-serif" font-size="19.5" fill="#262626" >0.01</text>
<text x="68.22" y="169.47" font-family="Liberation Sans, Arial, sans-serif" font-size="19.5" fill="#262626" >0</text>
<text x="34.81" y="219.62" font-family="Liberation Sans, Arial, sans-serif" font-size="19.5" fill="#262626" >-0.01</text>
<text x="34.83" y="269.78" font-family="Liberation Sans, Arial, sans-serif" font-size="19.5" fill="#262626" >-0.02</text>
<text x="34.71" y="319.93" font-family="Liberation Sans, Arial, sans-serif" font-size="19.5" fill="#262626" >-0.03</text>
<text x="34.42" y="370.09" font-family="Liberation Sans, Arial, sans-serif" font-size="19.5" fill="#262626" >-0.04</text>
<text x="34.67" y="420.24" font-family="Liberation Sans, Arial, sans-serif" font-size="19.5" fill="#262626" >-0.05</text>
<text x="34.71" y="470.40" font-family="Liberation Sans, Arial, sans-serif" font-size="19.5" fill="#262626" >-0.06</text>
<text x="82.68" y="491.00" font-family="Liberation Sans, Arial, sans-serif" font-size="19.5" fill="#262626" >0</text>
<text x="190.83" y="491.00" font-family="Liberation Sans, Arial, sans-serif" font-size="19.5" fill="#262626" >0.5</text>
<text x="314.93" y="491.00" font-family="Liberation Sans, Arial, sans-serif" font-size="19.5" fill="#262626" >1</text>
<text x="422.99" y="491.00" font-family="Liberation Sans, Arial, sans-serif" font-size="19.5" fill="#262626" >1.5</text>
<text x="547.72" y="491.00" font-family="Liberation Sans, Arial, sans-serif" font-size="19.5" fill="#262626" >2</text>
<text x="655.77" y="491.00" font-family="Liberation Sans, Arial, sans-serif" font-size="19.5" fill="#262626" >2.5</text>
<text x="337.43" y="518.20" font-family="Liberation Sans, Arial, sans-serif" font-weight="bold" font-size="22.5" fill="#1a1a1a" >Time(s)</text>
<g transform="translate(23.6,255.8) rotate(-90)"><text transform="translate(-1.25,0.00) scale(1.23,1)" font-family="Liberation Serif, Times New Roman, serif" font-size="26.7" fill="#1a1a1a" >Δ</text><text x="22.89" y="0.00" font-family="Liberation Sans, Arial, sans-serif" font-weight="bold" font-size="25.5" fill="#1a1a1a" >R</text></g>
<text x="618.17" y="523.50" font-family="Liberation Sans, Arial, sans-serif" font-size="23.5" fill="#707070" >×</text>
<text x="634.25" y="521.00" font-family="Liberation Sans, Arial, sans-serif" font-size="19" fill="#262626" >10</text>
<text transform="translate(654.28,511.60) scale(1.15,1)" font-family="Liberation Sans, Arial, sans-serif" font-size="14" fill="#262626" >-8</text>
<rect x="302.6" y="260.4" width="152.30" height="178.90" fill="#fff" stroke="#262626" stroke-width="2.4"/>
<path d="M307.6,279.50H365.4" stroke="#FF9A5C" stroke-width="3.6" stroke-linecap="butt"/>
<text transform="translate(369.20,284.30) scale(1.2,1)" font-family="Liberation Serif, Times New Roman, serif" font-size="17.5" fill="#1a1a1a" >Δ</text>
<text x="384.10" y="292.30" font-family="Liberation Sans, Arial, sans-serif" font-size="12.8" fill="#262626" >0</text>
<text transform="translate(392.19,284.30) scale(1.11,1)" font-family="Liberation Sans, Arial, sans-serif" font-size="15.0" fill="#262626" >=6×10</text>
<text x="441.37" y="276.10" font-family="Liberation Sans, Arial, sans-serif" font-size="12.2" fill="#262626" >7</text>
<path d="M307.6,314.40H365.4" stroke="#0000FF" stroke-width="3.6" stroke-linecap="butt"/>
<text transform="translate(369.20,319.20) scale(1.2,1)" font-family="Liberation Serif, Times New Roman, serif" font-size="17.5" fill="#1a1a1a" >Δ</text>
<text x="384.10" y="327.20" font-family="Liberation Sans, Arial, sans-serif" font-size="12.8" fill="#262626" >0</text>
<text transform="translate(392.19,319.20) scale(1.11,1)" font-family="Liberation Sans, Arial, sans-serif" font-size="15.0" fill="#262626" >=7×10</text>
<text x="441.37" y="311.00" font-family="Liberation Sans, Arial, sans-serif" font-size="12.2" fill="#262626" >7</text>
<path d="M307.6,349.30H365.4" stroke="#FF0000" stroke-width="3.6" stroke-linecap="butt"/>
<text transform="translate(369.20,354.10) scale(1.2,1)" font-family="Liberation Serif, Times New Roman, serif" font-size="17.5" fill="#1a1a1a" >Δ</text>
<text x="384.10" y="362.10" font-family="Liberation Sans, Arial, sans-serif" font-size="12.8" fill="#262626" >0</text>
<text transform="translate(392.19,354.10) scale(1.11,1)" font-family="Liberation Sans, Arial, sans-serif" font-size="15.0" fill="#262626" >=8×10</text>
<text x="441.37" y="345.90" font-family="Liberation Sans, Arial, sans-serif" font-size="12.2" fill="#262626" >7</text>
<path d="M307.6,384.20H365.4" stroke="#00FF00" stroke-width="3.6" stroke-linecap="butt"/>
<text transform="translate(369.20,389.00) scale(1.2,1)" font-family="Liberation Serif, Times New Roman, serif" font-size="17.5" fill="#1a1a1a" >Δ</text>
<text x="384.10" y="397.00" font-family="Liberation Sans, Arial, sans-serif" font-size="12.8" fill="#262626" >0</text>
<text transform="translate(392.19,389.00) scale(1.11,1)" font-family="Liberation Sans, Arial, sans-serif" font-size="15.0" fill="#262626" >=9×10</text>
<text x="441.37" y="380.80" font-family="Liberation Sans, Arial, sans-serif" font-size="12.2" fill="#262626" >7</text>
<path d="M307.6,419.10H365.4" stroke="#FF00FF" stroke-width="3.6" stroke-linecap="butt"/>
<text transform="translate(369.20,423.90) scale(1.2,1)" font-family="Liberation Serif, Times New Roman, serif" font-size="17.5" fill="#1a1a1a" >Δ</text>
<text x="384.10" y="431.90" font-family="Liberation Sans, Arial, sans-serif" font-size="12.8" fill="#262626" >0</text>
<text transform="translate(392.19,423.90) scale(1.11,1)" font-family="Liberation Sans, Arial, sans-serif" font-size="15.0" fill="#262626" >=1×10</text>
<text x="441.47" y="415.70" font-family="Liberation Sans, Arial, sans-serif" font-size="12.2" fill="#262626" >8</text>
</svg></body></html>
